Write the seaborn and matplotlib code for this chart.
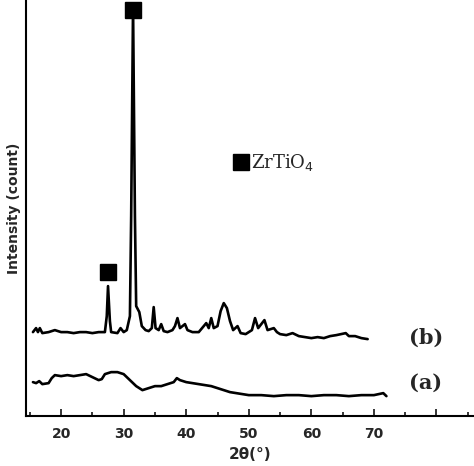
import matplotlib
matplotlib.use("Agg")
import matplotlib.pyplot as plt
import seaborn as sns
import pandas as pd

b_x = [15.5,16,16.3,16.6,17,18,19,20,21,22,23,24,25,26,27,27.3,27.5,27.8,28,29,29.5,30,30.5,31,31.2,31.5,31.8,32,32.5,32.9,33.5,34,34.5,34.8,35.1,35.6,36,36.4,37,37.8,38.2,38.6,39,39.8,40.2,41,42,42.8,43.2,43.6,44,44.4,45,45.5,46,46.5,47,47.5,48.2,48.7,49.5,50.5,51,51.5,52,52.5,53,54,54.5,55,56,57,58,59,60,61,62,63,64,65.5,66,67,68,69]
b_y = [84,88,84,88,83,84,86,84,84,83,84,84,83,84,84,100,130,95,84,83,88,84,86,100,200,411,200,110,104,90,86,85,88,109,88,86,92,85,84,86,90,98,88,92,86,84,84,90,93,88,98,88,90,105,113,108,95,86,90,83,82,86,98,88,92,96,86,88,84,82,81,83,80,79,78,79,78,80,81,83,80,80,78,77]
a_x = [15.5,16,16.5,17,18,18.5,19,20,21,22,23,24,25,26,26.5,27,28,29,30,31,32,33,34,35,36,37,38,38.5,39,40,41,42,43,44,45,46,47,48,49,50,52,54,56,58,60,62,64,66,68,70,71.5,72]
a_y = [34,33,35,32,33,38,41,40,41,40,41,42,39,36,37,42,44,44,42,36,30,26,28,30,30,32,34,38,36,34,33,32,31,30,28,26,24,23,22,21,21,20,21,21,20,21,21,20,21,21,23,20]

sns.set_style("ticks")
fig = plt.figure(figsize=(4.74, 4.66), dpi=100)
ax = fig.add_axes([0.055, 0.107, 0.945, 0.893])
sns.lineplot(x=b_x, y=b_y, sort=False, color="black", lw=1.9, ax=ax, estimator=None)
sns.lineplot(x=a_x, y=a_y, sort=False, color="black", lw=1.9, ax=ax, estimator=None)
ax.plot([27.5], [144], marker="s", ms=12, color="black", ls="none")
ax.plot([31.5], [406], marker="s", ms=12, color="black", ls="none")
ax.plot([48.8], [254], marker="s", ms=12, color="black", ls="none")
ax.text(50.3, 254, "ZrTiO$_4$", fontsize=13, family="DejaVu Serif", va="center", ha="left")
ax.text(78.3, 78, "(b)", fontsize=15, family="DejaVu Serif", fontweight="bold", ha="center", va="center")
ax.text(78.3, 33, "(a)", fontsize=15, family="DejaVu Serif", fontweight="bold", ha="center", va="center")
ax.set_xlim(14.4, 86)
ax.set_ylim(0, 416)
ax.set_xticks([20,30,40,50,60,70,80])
ax.set_xticklabels(["20","30","40","50","60","70",""])
ax.set_xticks([15,25,35,45,55,65,75,85], minor=True)
ax.set_yticks([])
for s in ["top","right"]:
    ax.spines[s].set_visible(False)
for s in ["left","bottom"]:
    ax.spines[s].set_linewidth(1.5)
    ax.spines[s].set_color("black")
ax.tick_params(axis="x", which="both", direction="in", width=1.3, labelsize=10, pad=8)
ax.tick_params(axis="x", which="major", length=5)
ax.tick_params(axis="x", which="minor", length=3)
for t in ax.get_xticklabels():
    t.set_fontweight("bold")
ax.set_xlabel("2θ(°)", fontsize=11, fontweight="bold", labelpad=4)
ax.set_ylabel("Intensity (count)", fontsize=10, fontweight="bold", labelpad=4)
fig.savefig("out.png", dpi=100)
